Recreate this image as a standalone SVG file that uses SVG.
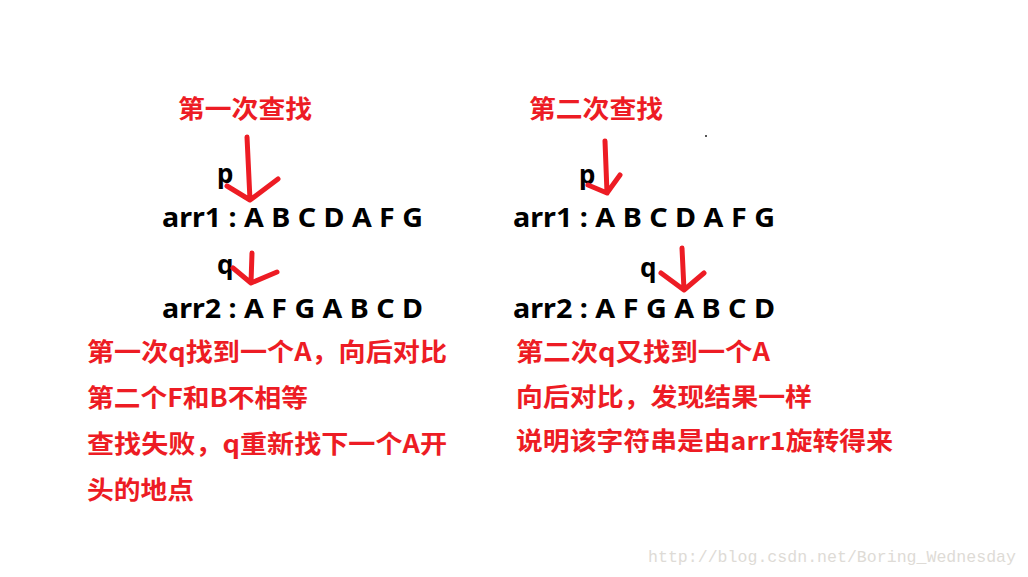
<svg xmlns="http://www.w3.org/2000/svg" width="1028" height="577" viewBox="0 0 1028 577">
<style>
.t{font-family:"Noto Sans CJK SC","Noto Sans",sans-serif;font-weight:bold;}
.red{fill:#ED1C24;font-size:25px;}
.blk{fill:#000;font-size:26px;font-family:"Noto Sans","Open Sans",sans-serif;font-weight:bold;}
.arrow{fill:none;stroke:#ED1C24;stroke-width:5;stroke-linecap:round;stroke-linejoin:round;}
.wm{fill:#dedbd6;font-family:"Liberation Mono",monospace;font-size:17px;}
</style>
<rect width="1028" height="577" fill="#fff"/>
<g id="left">
  <text class="t red" x="178" y="118" textLength="134" lengthAdjust="spacingAndGlyphs">第一次查找</text>
  <text class="blk" x="217" y="183">p</text>
  <text class="blk" x="162" y="227" textLength="261" lengthAdjust="spacingAndGlyphs">arr1 : A B C D A F G</text>
  <text class="blk" x="217" y="274">q</text>
  <text class="blk" x="162" y="318" textLength="261" lengthAdjust="spacingAndGlyphs">arr2 : A F G A B C D</text>
</g>
<g id="right">
  <text class="t red" x="529" y="118" textLength="134" lengthAdjust="spacingAndGlyphs">第二次查找</text>
  <text class="blk" x="579" y="184">p</text>
  <text class="blk" x="513" y="227" textLength="262" lengthAdjust="spacingAndGlyphs">arr1 : A B C D A F G</text>
  <text class="blk" x="640" y="277">q</text>
  <text class="blk" x="513" y="318" textLength="262" lengthAdjust="spacingAndGlyphs">arr2 : A F G A B C D</text>
</g>
<g id="connectors">
  <path class="arrow" d="M247 137 L250 200 M227 186 L250 200 L278 179"/>
  <path class="arrow" d="M252 253 L251 283 M233 268 L251 283 L277 272"/>
  <path class="arrow" d="M605 141 L607 193 M588 185 L607 193 L620 175"/>
  <path class="arrow" d="M682 248 L684 290 M661 273 L684 290 L704 273"/>
</g>
<g id="notes-left">
  <text class="t red" x="87" y="361" textLength="360" lengthAdjust="spacingAndGlyphs">第一次q找到一个A，向后对比</text>
  <text class="t red" x="87" y="407" textLength="221" lengthAdjust="spacingAndGlyphs">第二个F和B不相等</text>
  <text class="t red" x="87" y="453" textLength="360" lengthAdjust="spacingAndGlyphs">查找失败，q重新找下一个A开</text>
  <text class="t red" x="87" y="499" textLength="107" lengthAdjust="spacingAndGlyphs">头的地点</text>
</g>
<g id="notes-right">
  <text class="t red" x="516" y="361" textLength="254" lengthAdjust="spacingAndGlyphs">第二次q又找到一个A</text>
  <text class="t red" x="516" y="406" textLength="296" lengthAdjust="spacingAndGlyphs">向后对比，发现结果一样</text>
  <text class="t red" x="516" y="450" textLength="377" lengthAdjust="spacingAndGlyphs">说明该字符串是由arr1旋转得来</text>
</g>
<rect x="705" y="135" width="2" height="2" fill="#555"/>
<text class="wm" x="648" y="562" textLength="368" lengthAdjust="spacingAndGlyphs">http://blog.csdn.net/Boring_Wednesday</text>
</svg>
